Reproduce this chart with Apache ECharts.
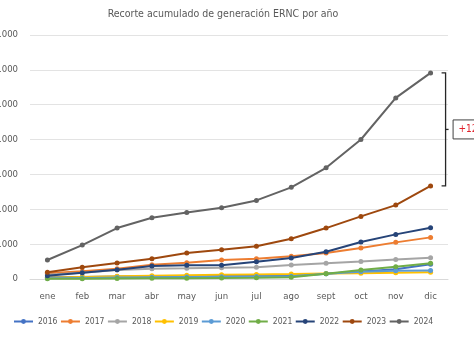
<!DOCTYPE html>
<html>
<head>
<meta charset="utf-8">
<script src="https://cdn.jsdelivr.net/npm/echarts@6/dist/echarts.min.js"></script>
<style>
  html, body { margin: 0; padding: 0; background: #fff; }
  #chart { width: 474px; height: 338px; }
</style>
</head>
<body>
<div id="chart"></div>
<script>
// Meses del año
const meses = ['ene', 'feb', 'mar', 'abr', 'may', 'jun', 'jul', 'ago', 'sept', 'oct', 'nov', 'dic'];

// Recorte acumulado (GWh) por año
const y2016 = [50, 60, 70, 75, 80, 85, 90, 100, 150, 215, 280, 420];
const y2017 = [162, 220, 296, 410, 468, 544, 582, 650, 745, 888, 1051, 1194];
const y2018 = [124, 181, 258, 296, 306, 320, 340, 400, 450, 500, 560, 611];
const y2019 = [37, 60, 80, 95, 110, 120, 130, 140, 155, 165, 178, 191];
const y2020 = [20, 30, 40, 50, 60, 65, 70, 80, 150, 205, 239, 245];
const y2021 = [5, 10, 15, 20, 25, 30, 35, 50, 150, 258, 353, 449];
const y2022 = [96, 181, 268, 372, 392, 392, 497, 602, 783, 1060, 1280, 1471];
const y2023 = [191, 335, 458, 582, 745, 840, 937, 1155, 1461, 1796, 2120, 2670];
const y2024 = [544, 974, 1461, 1757, 1910, 2044, 2254, 2630, 3190, 4002, 5196, 5912];

const yTicks = { min: 0, max: 7000, interval: 1000 };

const series = [
  { name: '2016', data: y2016, color: '#4472C4' },
  { name: '2017', data: y2017, color: '#ED7D31' },
  { name: '2018', data: y2018, color: '#A5A5A5' },
  { name: '2019', data: y2019, color: '#FFC000' },
  { name: '2020', data: y2020, color: '#5B9BD5' },
  { name: '2021', data: y2021, color: '#70AD47' },
  { name: '2022', data: y2022, color: '#264478' },
  { name: '2023', data: y2023, color: '#9E480E' },
  { name: '2024', data: y2024, color: '#636363' }
];

const FONT = "'DejaVu Sans Condensed', 'Liberation Sans Narrow', sans-serif";
const chart = echarts.init(document.getElementById('chart'), null, { renderer: 'canvas' });

const fmt = v => String(v).replace(/\B(?=(\d{3})+(?!\d))/g, '.');

chart.setOption({
  animation: false,
  textStyle: { fontFamily: FONT },
  title: {
    text: 'Recorte acumulado de generación ERNC por año',
    left: 218, top: 4, textAlign: 'center',
    textStyle: { fontFamily: FONT, fontSize: 10.5, fontWeight: 'normal', color: '#595959' }
  },
  grid: { left: 30, right: 26, top: 35, bottom: 59, containLabel: false, outerBoundsMode: 'none' },
  legend: {
    top: 317, left: 13, padding: 0, width: 460,
    itemWidth: 19, itemHeight: 6, itemGap: 2.5,
    textStyle: { fontFamily: FONT, fontSize: 8.5, color: '#595959' },
    data: series.map(s => s.name)
  },
  xAxis: {
    type: 'category', data: meses, boundaryGap: true,
    axisLine: { lineStyle: { color: '#d9d9d9' } },
    axisTick: { show: false },
    axisLabel: { fontFamily: FONT, fontSize: 9.5, color: '#595959', margin: 13 }
  },
  yAxis: {
    type: 'value', min: yTicks.min, max: yTicks.max, interval: yTicks.interval,
    axisLine: { show: false }, axisTick: { show: false },
    splitLine: { lineStyle: { color: '#e3e3e3' } },
    axisLabel: { fontFamily: FONT, fontSize: 9.5, color: '#595959', margin: 12, formatter: fmt }
  },
  series: series.map((s, i) => ({
    name: s.name, type: 'line', data: s.data, z: 2 + i,
    symbol: 'circle', symbolSize: 5,
    lineStyle: { width: 2, color: s.color },
    itemStyle: { color: s.color }
  }))
});

// Corchete entre los valores de diciembre de 2023 y 2024, con la variación porcentual
const last = meses.length - 1;
const pTop = chart.convertToPixel({ seriesIndex: 8 }, [last, y2024[last]]);
const pBot = chart.convertToPixel({ seriesIndex: 7 }, [last, y2023[last]]);
const bx = pTop[0] + 15;
const midY = (pTop[1] + pBot[1]) / 2;
const pct = Math.round((y2024[last] / y2023[last] - 1) * 100);

chart.setOption({
  graphic: [
    {
      type: 'polyline',
      shape: { points: [[bx - 4, pTop[1]], [bx, pTop[1]], [bx, pBot[1]], [bx - 4, pBot[1]]] },
      style: { stroke: '#262626', lineWidth: 1.3, fill: null }
    },
    {
      type: 'line',
      shape: { x1: bx, y1: midY, x2: bx + 3, y2: midY },
      style: { stroke: '#262626', lineWidth: 1.3 }
    },
    {
      type: 'rect',
      shape: { x: bx + 7.5, y: midY - 9.5, width: 45, height: 19 },
      style: { stroke: '#404040', lineWidth: 1, fill: '#fff' }
    },
    {
      type: 'text',
      x: bx + 13, y: midY,
      style: { text: '+' + pct + '%', fill: '#E0202A', fontFamily: FONT, fontSize: 10, verticalAlign: 'middle' }
    }
  ]
});
</script>
</body>
</html>
